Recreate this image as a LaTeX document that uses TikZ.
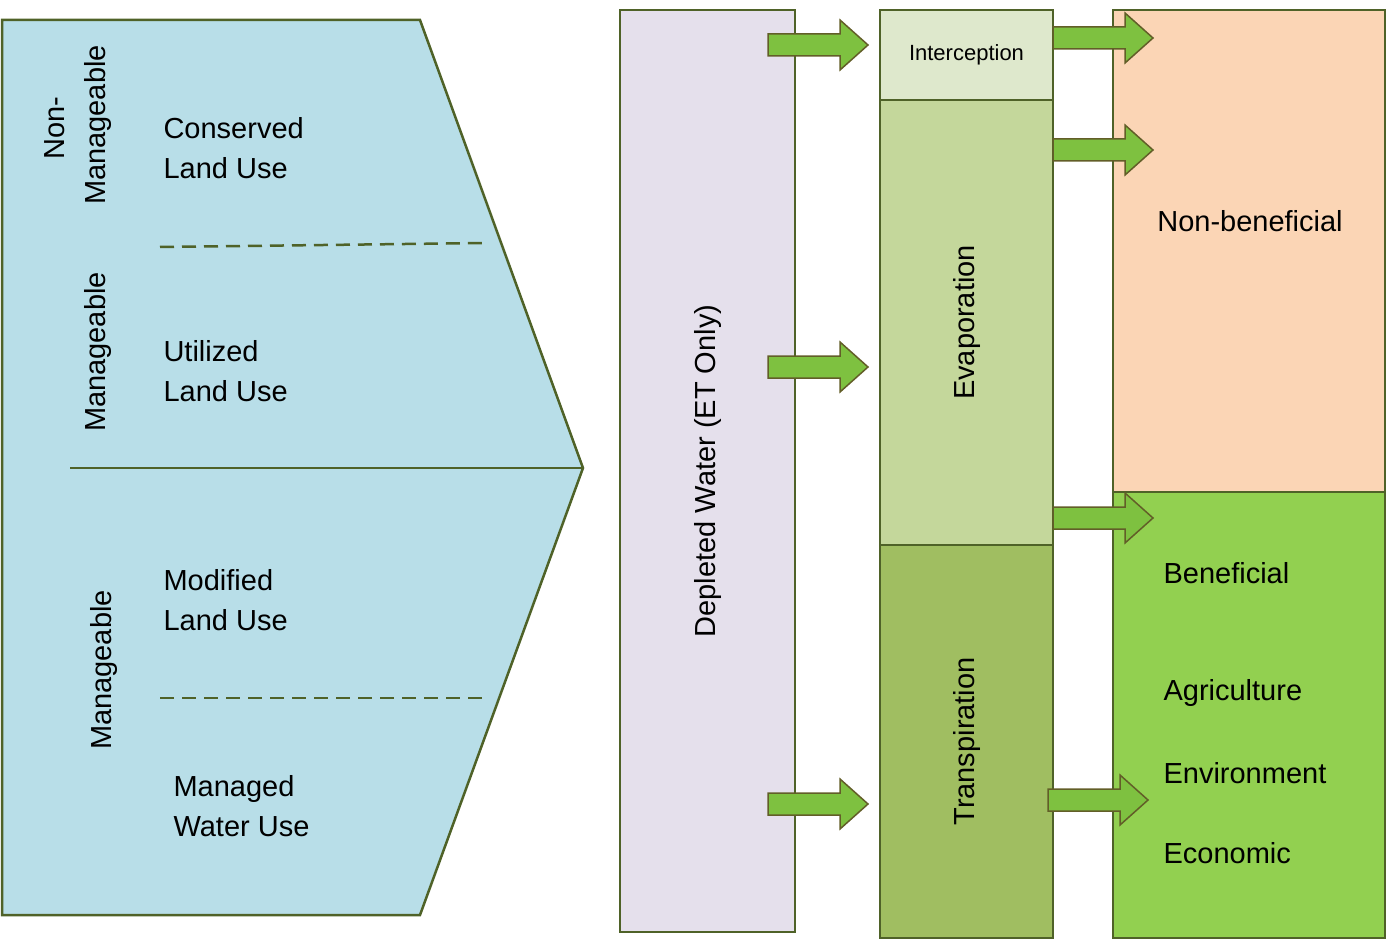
\documentclass[tikz,border=0pt]{standalone}
\usepackage{fontspec}
\setmainfont{Liberation Sans}
\begin{document}
\begin{tikzpicture}[x=1pt,y=-1pt,
  edge/.style={draw=olive!50!black,line width=2.5pt},
  lbl/.style={font=\fontsize{29}{40}\selectfont,align=left,anchor=west},
  vlbl/.style={font=\fontsize{29}{40}\selectfont,rotate=90},
  box/.style={edge,line join=miter},
  pics/barrow/.style={code={\draw[draw=olive!60!black,line width=1.5pt,fill=green!35!olive!75!white] (0,-11)--(72,-11)--(72,-25)--(100,0)--(72,25)--(72,11)--(0,11)--cycle;}}]
\useasboundingbox (0,0) rectangle (1386,941);
\definecolor{ol}{HTML}{4F6228}
\tikzset{edge/.style={draw=ol,line width=2.5pt}}
% left pentagon
\filldraw[edge,fill={rgb,255:red,184;green,222;blue,232}] (2,20)--(420,20)--(583,468)--(420,915)--(2,915)--cycle;
\draw[edge] (70,468) coordinate (m1) -- (583,468) coordinate (m2);
\draw[edge,dashed,dash pattern=on 14pt off 8pt] (160,247) coordinate (d1) -- (487,243) coordinate (d2);
\draw[edge,dashed,dash pattern=on 14pt off 8pt] (160,698) coordinate (d3) -- (487,698) coordinate (d4);
\node[lbl] (t1) at (160,148) {Conserved\\Land Use};
\node[lbl] (t2) at (160,371) {Utilized\\Land Use};
\node[lbl] (t3) at (160,600) {Modified\\Land Use};
\node[lbl] (t4) at (170,806) {Managed\\Water Use};
\node[vlbl] (v1) at (55,128) {Non-};
\node[vlbl] (v2) at (98,125) {Manageable};
\node[vlbl] (v3) at (98,352) {Manageable};
\node[vlbl] (v4) at (104,670) {Manageable};
% middle
\node[box,fill={rgb,255:red,229;green,224;blue,236},minimum width=175pt,minimum height=922pt,inner sep=0pt] (dep) at (707.5,471) {};
\node[vlbl] at (dep) {Depleted Water (ET Only)};
\node[box,fill={rgb,255:red,222;green,232;blue,204},minimum width=173pt,minimum height=90pt,inner sep=0pt] (int) at (966.5,55) {};
\node[font=\fontsize{22}{28}\selectfont] at (int) {Interception};
\node[box,fill={rgb,255:red,196;green,215;blue,155},minimum width=173pt,minimum height=445pt,inner sep=0pt] (eva) at (966.5,322.5) {};
\node[vlbl] at (eva) {Evaporation};
\node[box,fill={rgb,255:red,160;green,190;blue,97},minimum width=173pt,minimum height=393pt,inner sep=0pt] (tra) at (966.5,741.5) {};
\node[vlbl] at (tra) {Transpiration};
\node[box,fill={rgb,255:red,251;green,213;blue,181},minimum width=272pt,minimum height=482pt,inner sep=0pt] (nb) at (1249,251) {};
\node[font=\fontsize{29}{40}\selectfont] at (1250,221) {Non-beneficial};
\node[box,fill={rgb,255:red,146;green,208;blue,80},minimum width=272pt,minimum height=446pt,inner sep=0pt] (ben) at (1249,715) {};
\node[lbl] at (1160,573) {Beneficial};
\node[lbl] at (1160,693) {Agriculture};
\node[lbl] at (1160,773) {Environment};
\node[lbl] at (1160,853) {Economic};
% arrows
\pic at (768,45) {barrow};
\pic at (768,367) {barrow};
\pic at (768,804) {barrow};
\pic at (1053,38) {barrow};
\pic at (1053,150) {barrow};
\pic at (1053,518) {barrow};
\pic at (1048,800) {barrow};
\end{tikzpicture}
\end{document}
